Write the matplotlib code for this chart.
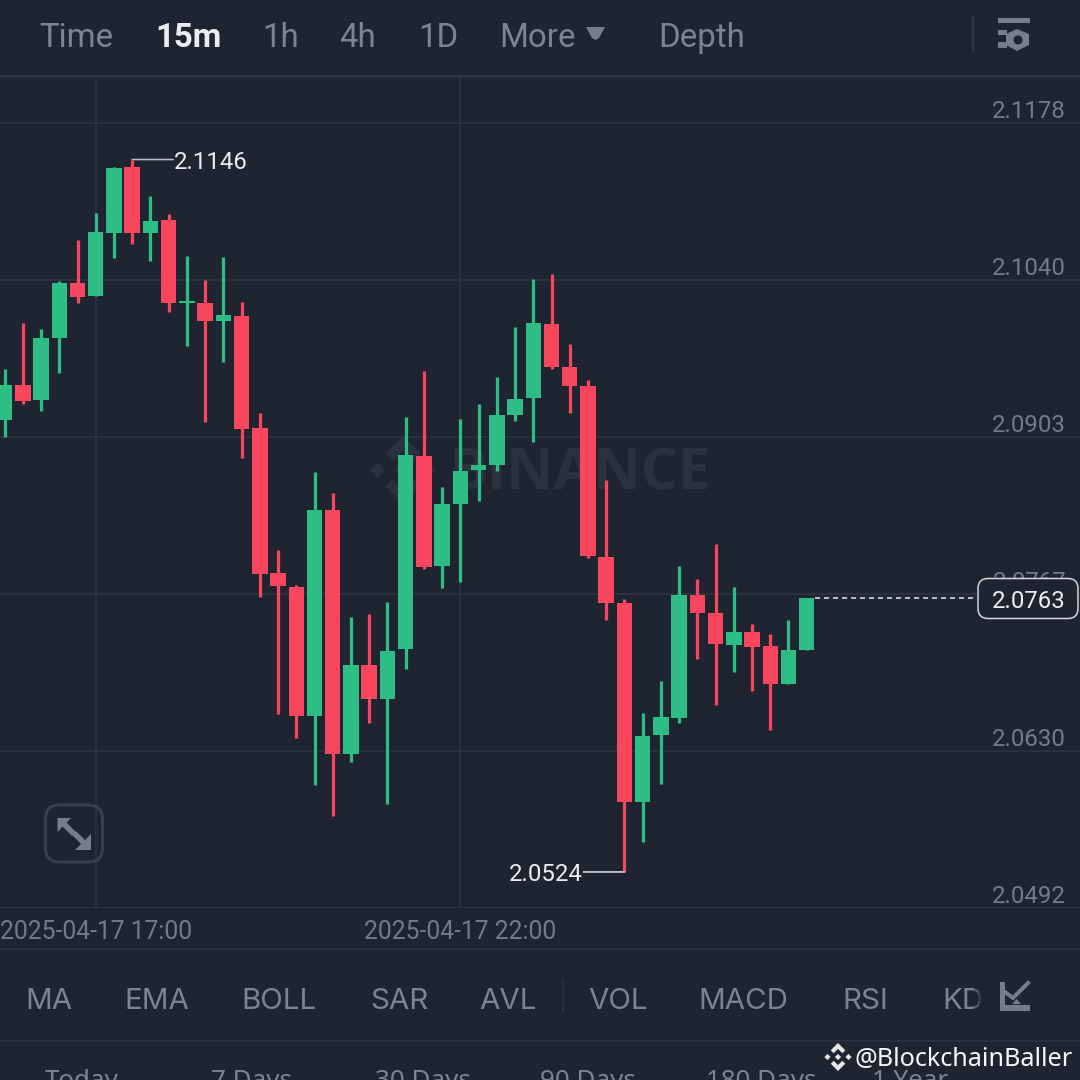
import matplotlib
matplotlib.use("Agg")
import matplotlib.pyplot as plt
from matplotlib.patches import Polygon, FancyBboxPatch, Rectangle, Circle
from matplotlib.lines import Line2D
from matplotlib.transforms import Affine2D

# ---- data ----
highs = [2.09630,2.10032,2.09980,2.10402,2.10758,2.10994,2.11396,2.11461,2.11145,2.10982,
         2.10620,2.10406,2.10606,2.10213,2.09243,2.08046,2.07740,2.08728,2.08547,2.07466,
         2.07487,2.07594,2.09208,2.09610,2.08597,2.09191,2.09322,2.09558,2.10000,2.10414,
         2.10463,2.09851,2.09532,2.08660,2.07618,2.06622,2.06904,2.07906,2.07798,2.08098,
         2.07725,2.07405,2.07314,2.07437,2.07629]
lows = [2.09036,2.09324,2.09263,2.09595,2.10210,2.10266,2.10603,2.10725,2.10574,2.10131,
        2.09834,2.09170,2.09694,2.08850,2.07640,2.06618,2.06406,2.05995,2.05727,2.06196,
        2.06537,2.05826,2.07006,2.07885,2.07719,2.07769,2.08479,2.08742,2.09173,2.08990,
        2.09633,2.09243,2.07981,2.07440,2.05235,2.05499,2.06004,2.06537,2.07096,2.06697,
        2.06985,2.06816,2.06476,2.06875,2.07177]
opens = [2.09185,2.09490,2.09362,2.09901,2.10382,2.10266,2.10816,2.11396,2.10816,2.10932,
         2.10205,2.10205,2.10052,2.10091,2.09112,2.07848,2.07728,2.06595,2.08398,2.06266,
         2.07044,2.06746,2.07181,2.08870,2.07909,2.08448,2.08750,2.08791,2.09231,2.09374,
         2.10021,2.09650,2.09482,2.07985,2.07588,2.05844,2.06435,2.06578,2.07658,2.07495,
         2.07218,2.07335,2.07207,2.06875,2.07177]
closes = [2.09490,2.09353,2.09901,2.10382,2.10257,2.10825,2.11387,2.10816,2.10924,2.10205,
          2.10225,2.10052,2.10102,2.09103,2.07843,2.07737,2.06595,2.08398,2.06266,2.07044,
          2.06746,2.07166,2.08879,2.07900,2.08448,2.08739,2.08789,2.09228,2.09368,2.10030,
          2.09650,2.09482,2.07999,2.07588,2.05844,2.06423,2.06587,2.07658,2.07498,2.07227,
          2.07335,2.07198,2.06875,2.07175,2.07629]
y_ticks = [2.11780,2.10408,2.09036,2.07664,2.06292,2.04920]
y_labels = ["2.1178","2.1040","2.0903","2.0767","2.0630","2.0492"]
x_ticks = [5,25]
x_labels = ["2025-04-17 17:00","2025-04-17 22:00"]
tabs = ["Time","15m","1h","4h","1D","More","Depth"]
indicators = ["MA","EMA","BOLL","SAR","AVL","VOL","MACD","RSI","KDJ"]
ranges = ["Today","7 Days","30 Days","90 Days","180 Days","1 Year"]
last_label = "2.0763"
high_label = "2.1146"
low_label = "2.0524"

# ---- style ----
BG = "#1F2530"
GRID = "#2E3440"
GREEN = "#2EBD85"
RED = "#F8465F"
GREY = "#7C8493"
AXT = "#737B89"
WHITE = "#EAECEF"
ICON = "#767D8B"
WM = "#2C323D"
def px(p):
    return p * 0.72

fig = plt.figure(figsize=(10.8, 10.8), dpi=100, facecolor=BG)
PX = Affine2D().scale(1/1080, -1/1080).translate(0, 1) + fig.transFigure

ax = fig.add_axes([0, 1-908/1080, 1, (908-76)/1080], facecolor=BG)
ax.set_xlim(-0.2523, 58.99)
ax.set_ylim(2.04920, 2.12191)
for s in ax.spines.values():
    s.set_visible(False)
ax.set_axisbelow(True)
ax.grid(True, color=GRID, lw=px(1.6))
ax.set_xticks(x_ticks, x_labels, fontname="Roboto", fontsize=px(24.6), color=AXT)
ax.set_yticks(y_ticks, y_labels, fontname="Roboto", fontsize=px(24), color=AXT)
ax.tick_params(axis="x", length=0, pad=8.5)
ax.tick_params(axis="y", length=0, labelleft=False, labelright=True, pad=px(-14))
for t in ax.get_yticklabels():
    t.set_ha("right")
    t.set_va("bottom")

def logo(target, cx, cy, r, color, z):
    pts = [
        [(0,-1),(.52,-.48),(.31,-.27),(0,-.58),(-.31,-.27),(-.52,-.48)],
        [(0,1),(.52,.48),(.31,.27),(0,.58),(-.31,.27),(-.52,.48)],
        [(-.22,0),(0,-.22),(.22,0),(0,.22)],
        [(-.97,0),(-.75,-.22),(-.53,0),(-.75,.22)],
        [(.97,0),(.75,-.22),(.53,0),(.75,.22)],
    ]
    for shape in pts:
        poly = Polygon([(cx+a*r, cy+b*r) for a, b in shape], closed=True, fc=color, ec="none",
                       transform=PX, zorder=z)
        if target is ax:
            ax.add_patch(poly)
        else:
            fig.add_artist(poly)

# watermark
logo(ax, 403, 470, 34, WM, 1)
ax.text(580/1080, 1-(474-76)/832, "BINANCE", transform=ax.transAxes, fontname="Open Sans",
        fontweight="bold", fontsize=px(58), color=WM, ha="center", va="center", zorder=1)

# candles
xs = list(range(len(opens)))
colors = [GREEN if c >= o else RED for o, c in zip(opens, closes)]
ax.vlines(xs, lows, highs, colors=colors, lw=px(3.2), zorder=3, capstyle="butt")
ax.bar(xs, [abs(c-o) for o, c in zip(opens, closes)], bottom=[min(o, c) for o, c in zip(opens, closes)],
       width=0.85, color=colors, linewidth=0, zorder=4)

# high/low markers
i_hi = highs.index(max(highs))
i_lo = lows.index(min(lows))
ax.annotate("", xy=(i_hi, highs[i_hi]), xytext=(41, 0), textcoords="offset pixels", zorder=6,
            arrowprops=dict(arrowstyle="-", color="#B8BCC4", lw=px(1.6), shrinkA=0, shrinkB=0))
ax.annotate(high_label, xy=(i_hi, highs[i_hi]), xytext=(42, -3), textcoords="offset pixels",
            fontname="Roboto", fontsize=px(24), color=WHITE, ha="left", va="center", zorder=6)
ax.annotate("", xy=(i_lo, lows[i_lo]), xytext=(-41, 0), textcoords="offset pixels", zorder=6,
            arrowprops=dict(arrowstyle="-", color="#D8DBE0", lw=px(1.6), shrinkA=0, shrinkB=0))
ax.annotate(low_label, xy=(i_lo, lows[i_lo]), xytext=(-42, -3), textcoords="offset pixels",
            fontname="Roboto", fontsize=px(24), color=WHITE, ha="right", va="center", zorder=6)

# last price line
ax.plot([44.43, 53.2], [closes[-1], closes[-1]], color=WHITE, lw=px(1.5), dashes=(3.4, 2.6), zorder=5)
fig.add_artist(FancyBboxPatch((978, 578.5), 100, 40, boxstyle="round,pad=0,rounding_size=10", fc=BG, ec="#D5D8DD",
                              lw=px(1.5), transform=PX, zorder=2))
fig.text(1029/1080, 1-602/1080, last_label, fontname="Roboto", fontsize=px(24), color=WHITE,
         ha="center", va="center", zorder=4)

# chrome lines
def hline(y, x0=0, x1=1080, lw=1.6, color=GRID):
    fig.add_artist(Line2D([x0, x1], [y, y], color=color, lw=px(lw), transform=PX, zorder=1.5))
def vline(x, y0, y1, lw=2, color=GRID):
    fig.add_artist(Line2D([x, x], [y0, y1], color=color, lw=px(lw), transform=PX, zorder=1.5))
hline(76, lw=3)
hline(949)
hline(1041)
vline(972.5, 17, 50, lw=2.5)
vline(562.5, 979, 1012, lw=1.5)

# tabs
tab_x = [39.5, 155.5, 262, 339, 418, 499.5, 658.5]
for name, x in zip(tabs, tab_x):
    sel = name == "15m"
    fig.text(x/1080, 1-47/1080, name, fontname="Roboto", fontsize=px(33), ha="left", va="baseline",
             color=WHITE if sel else GREY, fontweight="bold" if sel else "normal")
fig.add_artist(Polygon([(586, 27), (605, 27), (599, 38), (595.5, 40), (592, 38)], fc=ICON, ec="none", transform=PX))

# settings icon
fig.add_artist(Rectangle((998, 18), 32, 5, fc=ICON, ec="none", transform=PX))
fig.add_artist(Rectangle((998, 30), 9, 5, fc=ICON, ec="none", transform=PX))
fig.add_artist(Rectangle((998, 42), 9, 5.5, fc=ICON, ec="none", transform=PX))
fig.add_artist(Polygon([(1017, 29), (1029, 34), (1029, 45), (1017, 51), (1006, 45), (1006, 34)], fc=ICON, ec="none",
                       transform=PX, zorder=1.6))
fig.add_artist(Circle((1018, 40), 4.5, fc=BG, ec="none", transform=PX, zorder=1.7))

# expand icon
fig.add_artist(FancyBboxPatch((45.5, 805), 57, 57, boxstyle="round,pad=0,rounding_size=14", fc="none", ec="#39404C",
                              lw=px(3), transform=PX))
fig.add_artist(Polygon([(57.5, 818), (71, 818), (57.5, 832)], fc=ICON, ec="none", transform=PX))
fig.add_artist(Polygon([(91, 850), (75, 850), (91, 834)], fc=ICON, ec="none", transform=PX))
fig.add_artist(Line2D([62, 72], [822, 832], color=ICON, lw=px(5.5), transform=PX))
fig.add_artist(Line2D([76, 86], [835, 845], color=ICON, lw=px(5.5), transform=PX))

# indicator row
ind_x = [49, 156.5, 279.5, 399, 508.5, 618.5, 743.5, 865, 971]
for name, x in zip(indicators, ind_x):
    fig.text(x/1080, 1-1009/1080, name, fontname="Inter", fontsize=px(29.5), color=GREY, ha="center", va="baseline",
             zorder=1.2)
fig.add_artist(Rectangle((974, 975), 5, 40, fc=BG, ec="none", alpha=.45, transform=PX, zorder=1.3))
fig.add_artist(Rectangle((979, 975), 5, 40, fc=BG, ec="none", alpha=.8, transform=PX, zorder=1.3))
fig.add_artist(Rectangle((984, 975), 96, 40, fc=BG, ec="none", transform=PX, zorder=1.3))

# chart icon
fig.add_artist(Polygon([(1000, 982), (1005, 982), (1005, 1005), (1029.5, 1005), (1029.5, 1011), (1000, 1011)],
                       fc=ICON, ec="none", transform=PX, zorder=1.6))
fig.add_artist(Line2D([1005, 1013, 1028], [992, 998, 983], color=ICON, lw=px(4), transform=PX, zorder=1.6))
fig.add_artist(Polygon([(1012, 1004), (1021, 1004), (1016.5, 999)], fc=ICON, ec="none", transform=PX, zorder=1.6))

# range row (cut by the lower edge)
rng_x = [45, 211, 375, 540, 706, 872]
for name, x in zip(ranges, rng_x):
    fig.text(x/1080, 1-1088/1080, name, fontname="Noto Sans", fontsize=px(26), color=GREY, ha="left", va="baseline")

# credit
logo(fig, 838, 1057, 14, "#E6E6E6", 5)
fig.text(855/1080, 1-1066/1080, "@BlockchainBaller", fontname="Noto Sans", fontsize=px(25.2), color="#F5F5F5",
         ha="left", va="baseline", zorder=6)

fig.savefig("out.png", dpi=100, facecolor=BG)
